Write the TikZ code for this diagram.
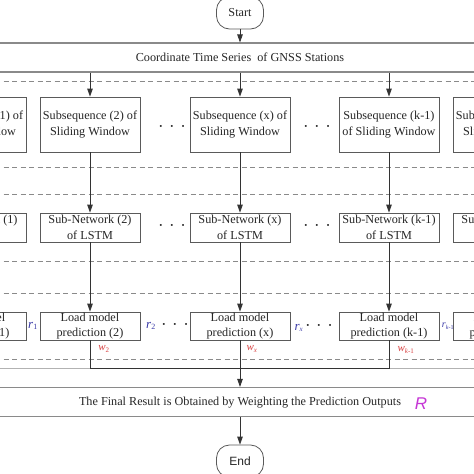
\documentclass[tikz,border=0pt]{standalone}
\usepackage{fontspec}
\setmainfont{Liberation Serif}
\setsansfont{Liberation Sans}
\usetikzlibrary{arrows.meta}
\definecolor{boxgray}{HTML}{5A5A5A}
\definecolor{bandgray}{HTML}{8A8A8A}
\definecolor{rblue}{HTML}{3A3AA8}
\definecolor{wred}{HTML}{D84040}
\definecolor{Rmag}{HTML}{C535D5}
\tikzset{
  base/.style={font=\fontsize{12.2}{15.5}\selectfont, text=black!85},
  stagebox/.style={base, draw=boxgray, line width=0.8pt, minimum width=100pt, inner sep=0pt, align=center},
  seqbox/.style={stagebox, minimum height=55pt},
  netbox/.style={stagebox, minimum height=29pt},
  predbox/.style={stagebox, minimum height=28pt},
  bandbox/.style={base, draw=bandgray, line width=1.1pt, minimum width=520pt, minimum height=29pt, inner sep=0pt},
  termbox/.style={base, draw=boxgray, line width=0.8pt, rounded corners=13pt, minimum width=47pt, minimum height=32pt, inner sep=0pt},
  sepline/.style={draw=bandgray, dashed, dash pattern=on 5pt off 3.5pt, line width=0.7pt},
  conn/.style={draw=black!80, line width=0.8pt},
  arr/.style={conn, -{Triangle[length=8pt,width=5.5pt]}},
  dotsnode/.style={base, inner sep=0pt},
  rlab/.style={font=\fontsize{13}{13}\selectfont\itshape, text=rblue, inner sep=0pt},
  wlab/.style={font=\fontsize{11}{11}\selectfont\itshape, text=wred, inner sep=0pt},
}
\newcommand{\mydots}{\textbf{·}\hspace{7pt}\textbf{·}\hspace{7pt}\textbf{·}}
\begin{document}
\begin{tikzpicture}[x=1pt,y=-1pt]
\useasboundingbox (0,0) rectangle (474,474);
\fill[white] (0,0) rectangle (474,474);
\clip (0,0) rectangle (474,474);

% dashed separators
\foreach \yy in {81,167,194,261,293,359}
  \draw[sepline] (-5,\yy) -- (480,\yy);

% terminals and bands
\node[termbox] (start) at (240,13) {Start};
\node[bandbox] (band) at (237,57.5) {\hspace*{6pt}Coordinate Time Series\ \ of GNSS Stations};
\node[bandbox] (final) at (237,402) {};
\node[base, anchor=center] (finaltext) at (240,403) {The Final Result is Obtained by Weighting the Prediction Outputs};
\node[font=\fontsize{17}{17}\sffamily\itshape, text=Rmag, inner sep=0pt] (R) at (421,404) {R};
\node[termbox, font=\fontsize{12}{14}\sffamily\selectfont] (end) at (240,461) {End};

% row 1
\node[seqbox] (s1) at (-24,124.5) {Subsequence (1) of\\Sliding Window};
\node[seqbox] (s2) at (90,124.5) {Subsequence (2) of\\Sliding Window};
\node[seqbox] (sx) at (240,124.5) {Subsequence (x) of\\Sliding Window};
\node[seqbox] (sk) at (389,124.5) {Subsequence (k-1)\\of Sliding Window};
\node[seqbox] (sn) at (503,124.5) {Subsequence (k) of\\Sliding Window};
\node[dotsnode] (d1a) at (172,128) {\mydots};
\node[dotsnode] (d1b) at (317,128) {\mydots};

% row 2
\node[netbox] (n1) at (-24,227.5) {Sub-Network (1)\\of LSTM};
\node[netbox] (n2) at (90,227.5) {Sub-Network (2)\\of LSTM};
\node[netbox] (nx) at (240,227.5) {Sub-Network (x)\\of LSTM};
\node[netbox] (nk) at (389,227.5) {Sub-Network (k-1)\\of LSTM};
\node[netbox] (nn) at (503,227.5) {Sub-Network (k)\\of LSTM};
\node[dotsnode] (d2a) at (172,227) {\mydots};
\node[dotsnode] (d2b) at (317,227) {\mydots};

% row 3
\node[predbox] (p1) at (-24,326) {Load model\\prediction (1)};
\node[predbox] (p2) at (90,326) {Load model\\prediction (2)};
\node[predbox] (px) at (240,326) {Load model\\prediction (x)};
\node[predbox] (pk) at (389,326) {Load model\\prediction (k-1)};
\node[predbox] (pn) at (503,326) {Load model\\prediction (k)};
\node[dotsnode] (d3a) at (175,326) {\mydots};
\node[dotsnode] (d3b) at (319,327) {\mydots};

% r and w labels
\node[rlab] (r1) at (33,326) {r\textsubscript{\fontsize{8}{8}\selectfont\upshape 1}};
\node[rlab] (r2) at (151,326) {r\textsubscript{\fontsize{8}{8}\selectfont\upshape 2}};
\node[rlab] (rx) at (299,328) {r\textsubscript{\fontsize{7}{7}\selectfont x}};
\node[rlab, font=\fontsize{10}{10}\selectfont\itshape] (rk) at (448,326) {r\textsubscript{\fontsize{6}{6}\selectfont k\upshape -1}};
\node[wlab] (w2) at (104,349) {w\textsubscript{\fontsize{7}{7}\selectfont\upshape 2}};
\node[wlab] (wx) at (252,349) {w\textsubscript{\fontsize{7}{7}\selectfont x}};
\node[wlab] (wk) at (406,350) {w\textsubscript{\fontsize{7}{7}\selectfont k\upshape -1}};

% connectors
\draw[arr] (start) -- (band.north -| start.south);
\draw[arr] (band.south -| s2.north) -- (s2.north);
\draw[arr] (band.south -| sx.north) -- (sx.north);
\draw[arr] (band.south -| sk.north) -- (sk.north);
\draw[arr] (s2) -- (n2);
\draw[arr] (sx) -- (nx);
\draw[arr] (sk) -- (nk);
\draw[arr] (n2) -- (p2);
\draw[arr] (nx) -- (px);
\draw[arr] (nk) -- (pk);
\coordinate (cl) at (240,368);
\draw[draw=black!30, line width=0.8pt] (0,368) -- (474,368);
\draw[conn] (p2.south) |- (cl);
\draw[conn] (pk.south) |- (cl);
\draw[arr] (px.south) -- (final.north -| px.south);
\draw[arr] (final.south -| end.north) -- (end.north);
\end{tikzpicture}
\end{document}
